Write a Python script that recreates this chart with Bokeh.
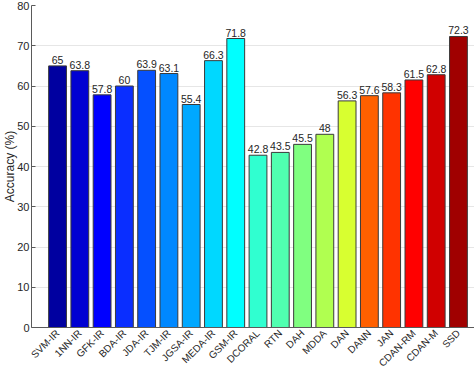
import math
from bokeh.plotting import figure
from bokeh.models import ColumnDataSource, Range1d, FixedTicker
from bokeh.core.properties import value
from bokeh.embed import file_html
from bokeh.resources import INLINE

methods = ["SVM-IR", "1NN-IR", "GFK-IR", "BDA-IR", "JDA-IR", "TJM-IR", "JGSA-IR",
           "MEDA-IR", "GSM-IR", "DCORAL", "RTN", "DAH", "MDDA", "DAN", "DANN",
           "JAN", "CDAN-RM", "CDAN-M", "SSD"]
accuracy = [65, 63.8, 57.8, 60, 63.9, 63.1, 55.4, 66.3, 71.8, 42.8, 43.5, 45.5,
            48, 56.3, 57.6, 58.3, 61.5, 62.8, 72.3]
colors = ["#0000A0", "#0000D2", "#0000FF", "#0A2EFF", "#0550FF", "#0088FF",
          "#00A8FF", "#00D8FF", "#00FFFF", "#30FFD0", "#50FFB0", "#80FF80",
          "#B0FF50", "#D8FF30", "#FF6000", "#FF3300", "#FF0000", "#D00000",
          "#A00000"]
y_ticks = [0, 10, 20, 30, 40, 50, 60, 70, 80]

xs = list(range(1, len(methods) + 1))
src = ColumnDataSource(dict(x=xs, y=accuracy, c=colors,
                            lbl=[f"{v:g}" for v in accuracy]))

p = figure(width=474, height=375, output_backend="svg", toolbar_location=None,
           x_range=Range1d(-0.17, 19.72), y_range=Range1d(0, 80),
           min_border_left=31, min_border_right=0, min_border_top=5,
           min_border_bottom=46)
p.outline_line_color = None
p.background_fill_color = "white"

p.vbar(x="x", top="y", width=0.8, bottom=0, source=src, fill_color="c",
       line_color="#3A3A3A", line_width=1)
p.text(x="x", y="y", text="lbl", source=src, text_align="center",
       text_baseline="bottom", y_offset=-2, text_font=value("Liberation Sans"),
       text_font_size="10.5px", text_color="#262626")

p.xgrid.grid_line_color = None
p.ygrid.grid_line_color = "#E6E6E6"
p.ygrid.ticker = FixedTicker(ticks=y_ticks)

p.yaxis.ticker = FixedTicker(ticks=y_ticks)
p.yaxis.axis_label = "Accuracy (%)"
p.yaxis.axis_label_text_font = "Liberation Sans"
p.yaxis.axis_label_text_font_style = "normal"
p.yaxis.axis_label_text_font_size = "12px"
p.yaxis.axis_label_text_color = "#262626"
p.yaxis.axis_label_standoff = -3
p.yaxis.major_label_standoff = 2
p.yaxis.major_label_text_font_size = "11px"
p.yaxis.major_tick_out = 0
p.yaxis.major_tick_in = 4
p.yaxis.minor_tick_line_color = None

p.xaxis.ticker = FixedTicker(ticks=xs)
p.xaxis.major_label_overrides = {i: m for i, m in zip(xs, methods)}
p.xaxis.major_label_orientation = math.pi / 4
p.xaxis.major_label_text_font_size = "10px"
p.xaxis.major_label_standoff = 4
p.xaxis.major_tick_out = 0
p.xaxis.major_tick_in = 0
p.xaxis.minor_tick_line_color = None

for ax in (p.xaxis, p.yaxis):
    ax.axis_line_color = "#5A5A5A"
    ax.major_tick_line_color = "#5A5A5A"
    ax.major_label_text_font = "Liberation Sans"
    ax.major_label_text_color = "#262626"

open("out.html", "w").write(file_html(p, INLINE))
